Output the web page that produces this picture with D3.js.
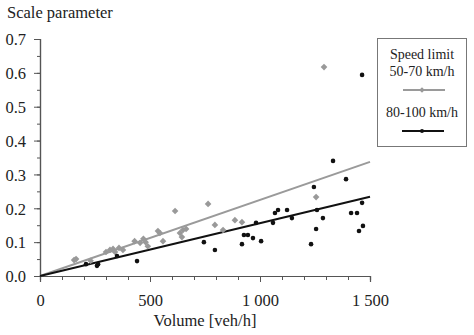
<!DOCTYPE html>
<html><head><meta charset="utf-8">
<script src="https://cdn.jsdelivr.net/npm/d3@7"></script>
<style>body{margin:0;background:#fff}svg{display:block}</style>
</head><body><svg id="c" width="474" height="335"></svg>
<script>
const xTicks = [0, 500, 1000, 1500];
const xTickLabels = ["0", "500", "1 000", "1 500"];
const yTicks = [0, 0.1, 0.2, 0.3, 0.4, 0.5, 0.6, 0.7];
const yTickLabels = ["0.0", "0.1", "0.2", "0.3", "0.4", "0.5", "0.6", "0.7"];
const seriesNames = ["50-70 km/h", "80-100 km/h"];
const lowVol = [155,164,230,300,318,332,341,359,377,430,455,470,480,490,536,545,559,614,636,645,650,664,764,795,832,886,918,1255,1291];
const lowVal = [0.047,0.050,0.045,0.071,0.077,0.080,0.071,0.083,0.077,0.103,0.098,0.110,0.100,0.088,0.133,0.127,0.103,0.192,0.127,0.115,0.136,0.139,0.213,0.151,0.136,0.165,0.159,0.233,0.617];
const highVol = [209,259,264,350,441,745,795,918,927,945,968,982,1005,1059,1068,1082,1123,1145,1232,1245,1255,1259,1286,1332,1391,1414,1441,1450,1464,1468,1464];
const highVal = [0.035,0.030,0.035,0.059,0.044,0.100,0.077,0.094,0.121,0.121,0.112,0.157,0.103,0.157,0.186,0.195,0.195,0.171,0.094,0.263,0.139,0.195,0.171,0.340,0.286,0.186,0.186,0.133,0.216,0.148,0.594];
const fitX = [0, 1500];
const lowFit = [0, 0.337];
const highFit = [0, 0.234];

const FONT = "'Liberation Serif', 'DejaVu Serif', serif";
const svg = d3.select("#c");
const x = d3.scaleLinear().domain([0,1500]).range([40,370]);
const y = d3.scaleLinear().domain([0,0.7]).range([276,39]);
const axisCol = "#555";

svg.append("g").attr("transform","translate(0,276)")
  .call(d3.axisBottom(x).tickValues(d3.range(0,1501,100)).tickSize(4).tickFormat(""));
svg.append("g").attr("transform","translate(0,276)")
  .call(d3.axisBottom(x).tickValues(xTicks).tickSize(6).tickPadding(12).tickFormat((d,i)=>xTickLabels[i]));
svg.append("g").attr("transform","translate(40,0)")
  .call(d3.axisLeft(y).tickValues(d3.range(0,0.7001,0.05)).tickSize(3).tickFormat(""));
const yMaj = svg.append("g").attr("transform","translate(40,0)")
  .call(d3.axisLeft(y).tickValues(yTicks).tickSize(6).tickPadding(8).tickFormat((d,i)=>yTickLabels[i]));
svg.selectAll("g").attr("font-family", null);
svg.selectAll(".domain").attr("stroke",axisCol).attr("stroke-width",1.2);
svg.selectAll(".tick line").attr("stroke",axisCol);
svg.selectAll(".tick text").style("font-family",FONT).style("font-size","16.5px").attr("fill","#222");
yMaj.selectAll(".tick text").attr("dy","0.35em");

function txt(g, xx, yy, s, size, anchor) {
  return g.append("text").attr("x",xx).attr("y",yy).attr("text-anchor",anchor||"start")
    .style("font-family",FONT).style("font-size",size+"px").attr("fill","#222").text(s);
}
txt(svg, 7, 18, "Scale parameter", 16.5);
txt(svg, 205, 326, "Volume [veh/h]", 16.5, "middle");

const line = d3.line().x(d=>x(d[0])).y(d=>y(d[1]));
svg.append("path").attr("d",line(fitX.map((v,i)=>[v,lowFit[i]]))).attr("stroke","#9a9a9a").attr("stroke-width",2).attr("fill","none");
svg.append("path").attr("d",line(fitX.map((v,i)=>[v,highFit[i]]))).attr("stroke","#111").attr("stroke-width",2).attr("fill","none");

const diamond = d3.symbol().type(d3.symbolDiamond2).size(28);
svg.append("g").selectAll("path").data(lowVol.map((v,i)=>[v,lowVal[i]])).join("path")
  .attr("d",diamond).attr("transform",d=>`translate(${x(d[0])},${y(d[1])})`).attr("fill","#999");
svg.append("g").selectAll("circle").data(highVol.map((v,i)=>[v,highVal[i]])).join("circle")
  .attr("cx",d=>x(d[0])).attr("cy",d=>y(d[1])).attr("r",2.3).attr("fill","#111");

const lg = svg.append("g");
lg.append("rect").attr("x",377.5).attr("y",38.5).attr("width",89).attr("height",108).attr("fill","#fff").attr("stroke","#777").attr("stroke-width",1);
txt(lg, 422, 59, "Speed limit", 14, "middle");
txt(lg, 422, 76, seriesNames[0], 14, "middle");
lg.append("line").attr("x1",403).attr("x2",445).attr("y1",90).attr("y2",90).attr("stroke","#9a9a9a").attr("stroke-width",2);
lg.append("path").attr("d",d3.symbol().type(d3.symbolDiamond2).size(20)).attr("transform","translate(422,90)").attr("fill","#999");
txt(lg, 422, 117, seriesNames[1], 14, "middle");
lg.append("line").attr("x1",402).attr("x2",444).attr("y1",131).attr("y2",131).attr("stroke","#111").attr("stroke-width",2);
lg.append("circle").attr("cx",422).attr("cy",131).attr("r",2).attr("fill","#111");
</script></body></html>
